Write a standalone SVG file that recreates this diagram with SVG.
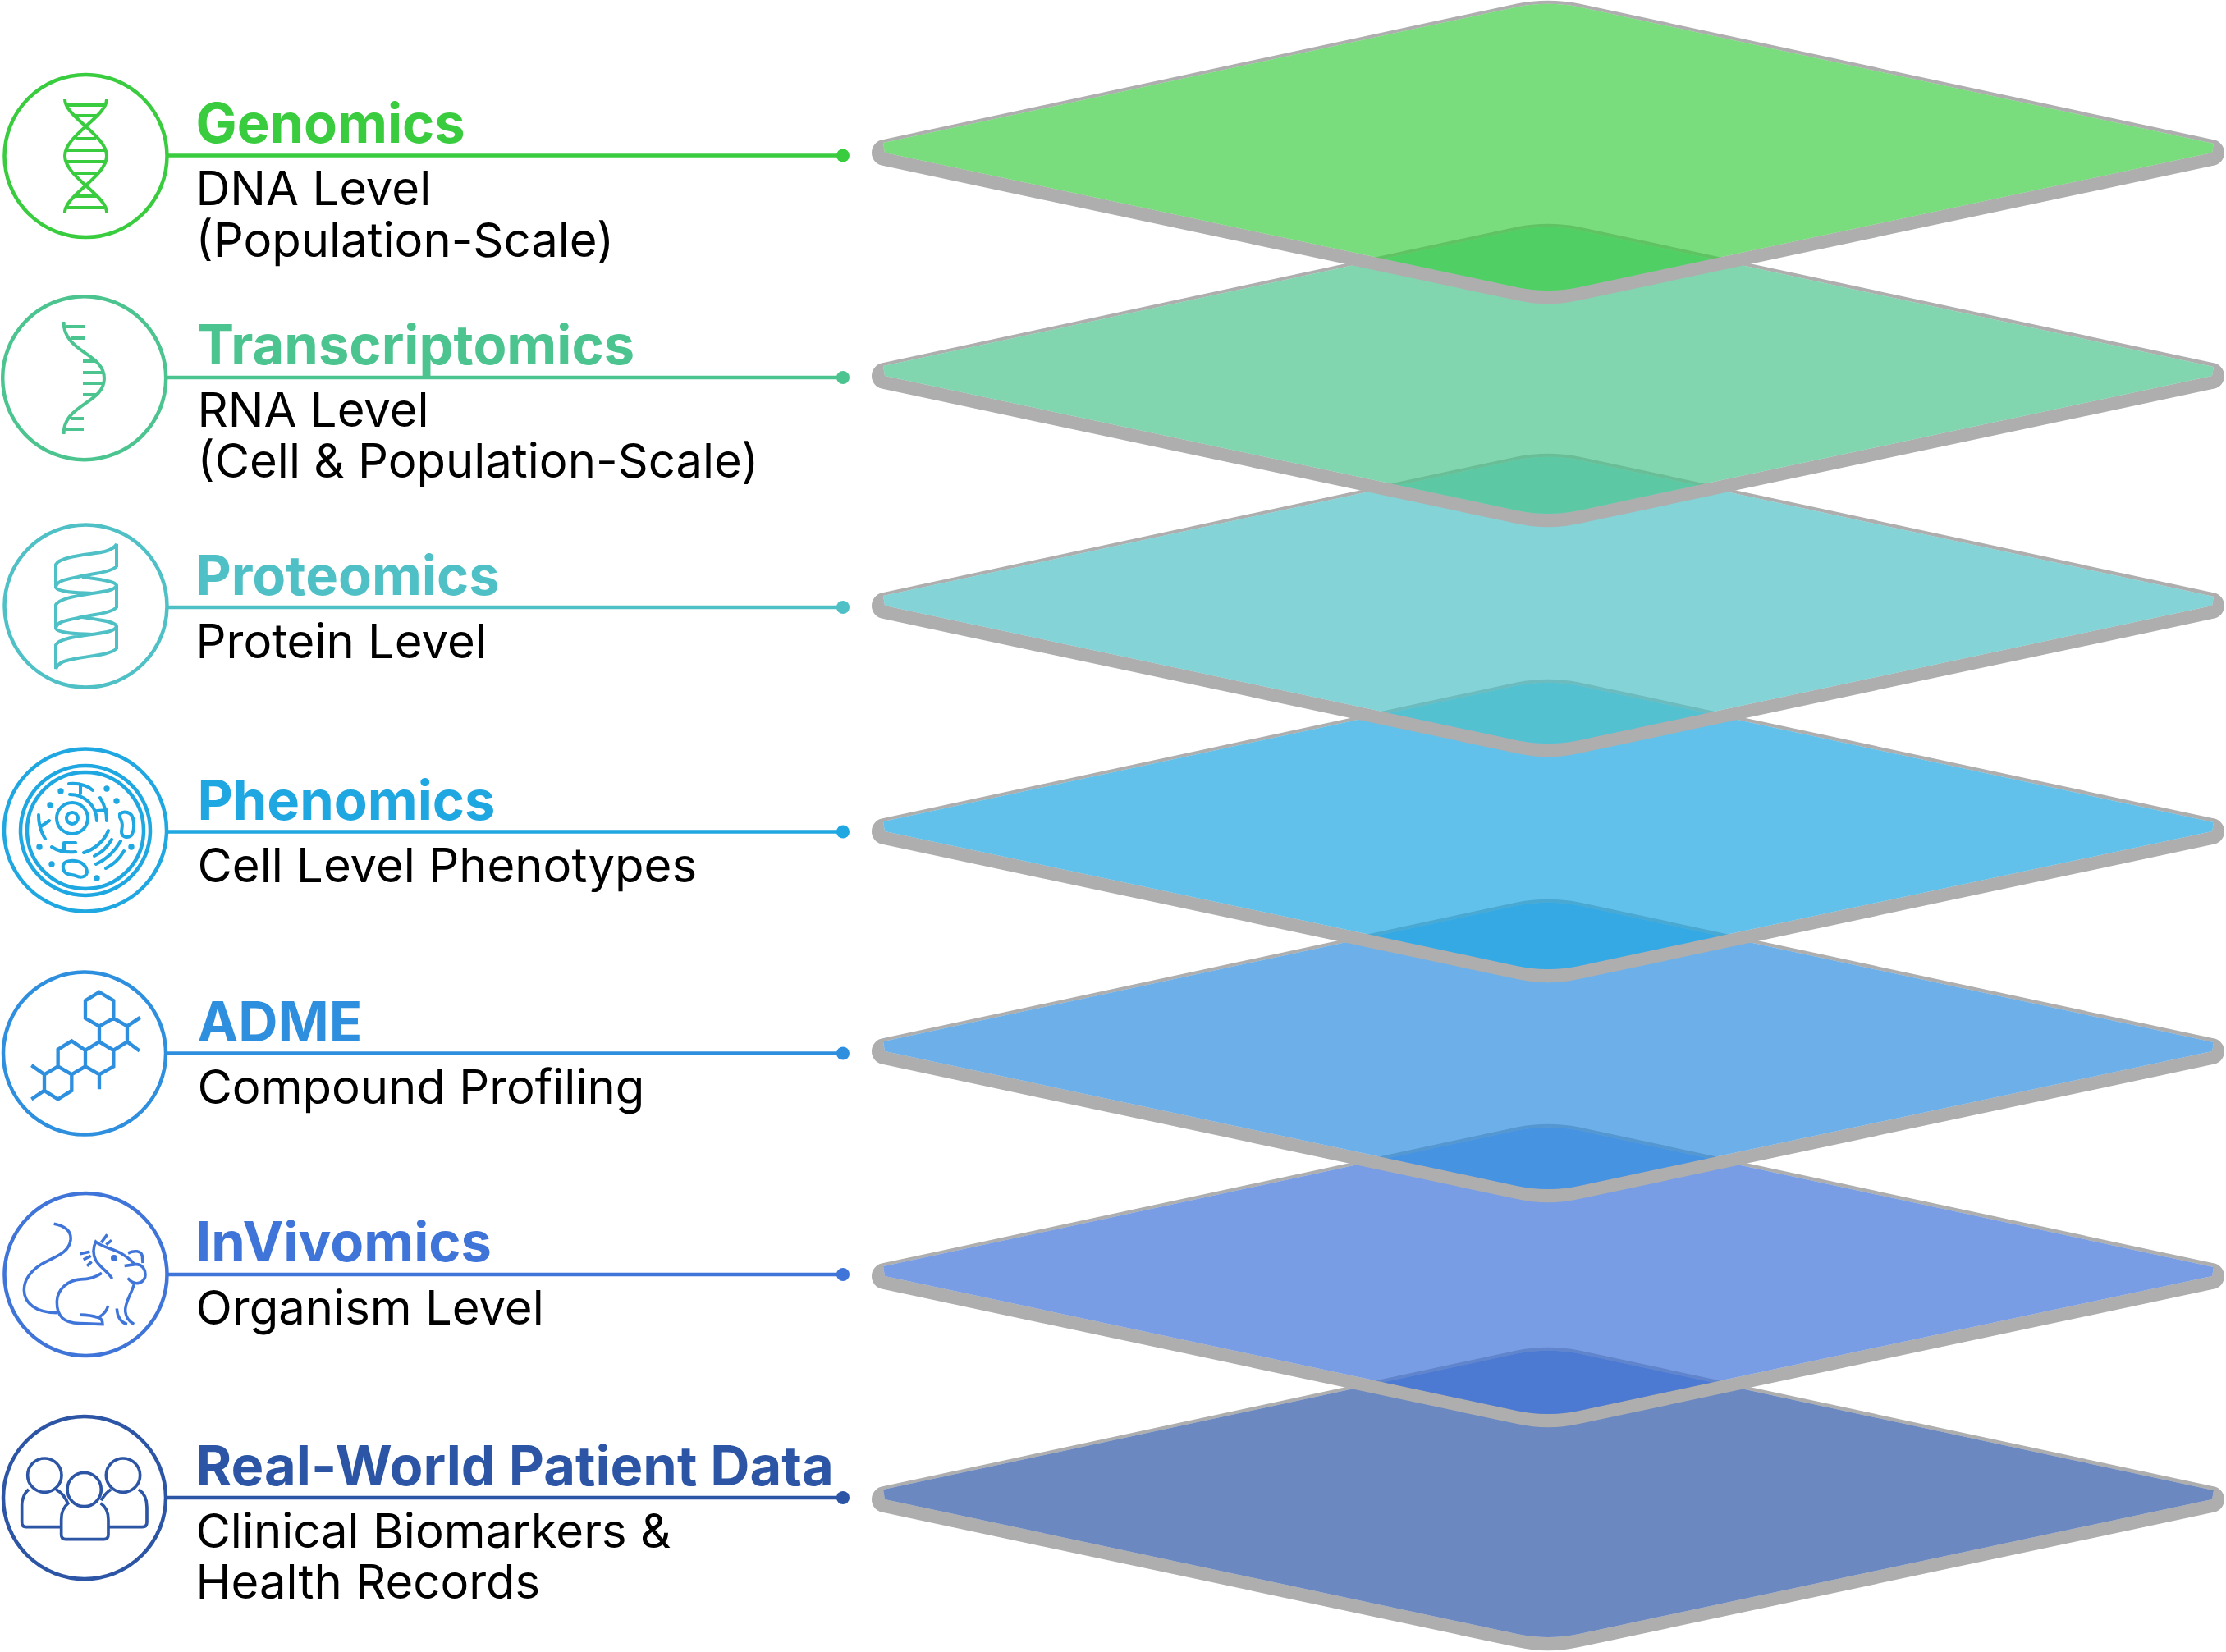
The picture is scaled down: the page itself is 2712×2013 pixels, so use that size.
<svg xmlns="http://www.w3.org/2000/svg" width="2712" height="2013" viewBox="0 0 2712 2013">
<style>
.ring{fill:#aeaeae;fill-rule:evenodd}
.t{font-family:Inter,"Liberation Sans",sans-serif;font-weight:700;font-size:66.8px}
.s{font-family:Inter,"Liberation Sans",sans-serif;font-weight:400;font-size:58px;fill:#000}
.ic{fill:none;stroke-width:4.5}
.th{fill:none;stroke-width:4}
.lk{stroke-width:4.5;fill:none}
.c1{stroke:#3acc3f}.f1{fill:#3acc3f}
.c2{stroke:#4cc48f}.f2{fill:#4cc48f}
.c3{stroke:#4fc1c6}.f3{fill:#4fc1c6}
.c4{stroke:#1ea7e1}.f4{fill:#1ea7e1}
.c5{stroke:#2f8fdf}.f5{fill:#2f8fdf}
.c6{stroke:#3f74d9}.f6{fill:#3f74d9}
.c7{stroke:#2c55a5}.f7{fill:#2c55a5}
</style>
<defs>
<path id="ringp" d="M1074,170.6 L1848,4.5 Q1886,-3 1924,4.5 L2698,170.6 A16 16 0 0 1 2698,201.6 L1924,366 Q1886,374.5 1848,366 L1074,201.6 A16 16 0 0 1 1074,170.6 Z M1076,174 L1078,186 L1848,350 Q1886,358 1924,350 L2695,186 L2697,175 L1924,8.5 Q1886,1 1848,8.5 Z"/>
<path id="fillp" d="M1076,174 L1078,186 L1848,350 Q1886,358 1924,350 L2695,186 L2697,175 L1924,8.5 Q1886,1 1848,8.5 Z"/>
</defs>
<g id="layers">
<g id="layer7" transform="translate(0,1641)"><use href="#ringp" class="ring"/><use href="#fillp" class="f7" opacity=".7"/></g>
<g id="layer6" transform="translate(0,1369)"><use href="#ringp" class="ring"/><use href="#fillp" class="f6" opacity=".7"/></g>
<g id="layer5" transform="translate(0,1095)"><use href="#ringp" class="ring"/><use href="#fillp" class="f5" opacity=".7"/></g>
<g id="layer4" transform="translate(0,827)"><use href="#ringp" class="ring"/><use href="#fillp" class="f4" opacity=".7"/></g>
<g id="layer3" transform="translate(0,552)"><use href="#ringp" class="ring"/><use href="#fillp" class="f3" opacity=".7"/></g>
<g id="layer2" transform="translate(0,272)"><use href="#ringp" class="ring"/><use href="#fillp" class="f2" opacity=".7"/></g>
<g id="layer1"><use href="#ringp" class="ring"/><use href="#fillp" class="f1" opacity=".68"/></g>
</g>
<g id="connectors">
<path class="lk c1" d="M205,189.5H1027"/><circle class="f1" cx="1027" cy="189.5" r="8"/>
<path class="lk c2" d="M203,460H1027"/><circle class="f2" cx="1027" cy="460" r="8"/>
<path class="lk c3" d="M205,740H1027"/><circle class="f3" cx="1027" cy="740" r="8"/>
<path class="lk c4" d="M204,1013.5H1027"/><circle class="f4" cx="1027" cy="1013.5" r="8"/>
<path class="lk c5" d="M203,1283.5H1027"/><circle class="f5" cx="1027" cy="1283.5" r="8"/>
<path class="lk c6" d="M205,1553H1027"/><circle class="f6" cx="1027" cy="1553" r="8"/>
<path class="lk c7" d="M204,1825H1027"/><circle class="f7" cx="1027" cy="1825" r="8"/>
</g>
<g id="genomics">
<circle class="ic c1" cx="104.5" cy="190" r="99"/>
<path class="th c1" d="M79,121C79,142 130,165 130,190C130,215 79,238 79,259M130,121C130,142 79,165 79,190C79,215 130,238 130,259M82,128H127M90,141H118M92,169H117M81,183H128M81,197H128M90,211H119M91,239H118M82,253H127"/>
<text class="t f1" x="238.5" y="174">Genomics</text>
<text class="s" x="238.5" y="250">DNA Level</text>
<text class="s" x="238.5" y="313">(Population-Scale)</text>
</g>
<g id="transcriptomics">
<circle class="ic c2" cx="102.7" cy="460.7" r="99.5"/>
<path class="th c2" d="M77.5,392C77.5,430 127,430 127,461C127,492 77.5,492 77.5,529M80,398H103M86,412H103M101,440H118M101,454H126M101,467H126M101,481H118M86,510H102M80,523H102"/>
<text class="t f2" x="240.5" y="444">Transcriptomics</text>
<text class="s" x="240.5" y="520">RNA Level</text>
<text class="s" x="240.5" y="582">(Cell &amp; Population-Scale)</text>
</g>
<g id="proteomics">
<circle class="ic c3" cx="104.5" cy="738.5" r="99"/>
<path class="th c3" d="M142,663V690C135,698 110,699 95,703C80,706 68,708 68,716V688C72,680 95,677 110,675C125,673 138,671 142,663ZM100,703C120,706 140,708 142,713C140,720 125,721 112,723C95,722 72,722 68,716M142,713V740C135,748 110,749 95,753C80,756 68,758 68,766V737C72,729 95,726 112,723M100,752C120,755 140,757 142,763C140,770 125,771 112,773C95,772 72,772 68,766M142,763V790C135,798 110,799 95,802C85,804 72,805 68,815V786C72,778 95,775 112,773"/>
<text class="t f3" x="238.5" y="725">Proteomics</text>
<text class="s" x="238.5" y="802">Protein Level</text>
</g>
<g id="phenomics">
<circle class="ic c4" cx="104" cy="1011.5" r="99"/>
<circle class="ic c4" cx="104" cy="1012" r="79"/>
<circle class="ic c4" cx="104" cy="1012" r="71"/>
<g class="th c4" stroke-linecap="round">
<circle cx="88" cy="997" r="7"/><circle cx="88" cy="997" r="19"/>
<path d="M84,955C95,954 106,957 113,963M85,968C102,968 117,980 118,1000M98,957V967M122,972C127,980 130,990 130,1000M118,988L130,987M47,993C47,1005 50,1014 55,1022M60,1000L50,1007M63,1032C72,1038 82,1039 92,1038M78,1027H92M78,1027V1036M102,1039C115,1035 127,1025 132,1012M115,1043C124,1039 131,1032 136,1023M117,1053C130,1047 140,1037 147,1025M129,1058C139,1053 146,1046 151,1037"/>
<path d="M146,992C151,987 160,990 162,997C164,1006 164,1012 160,1018C155,1022 148,1020 148,1013C149,1007 150,1003 146,996Z"/>
<path d="M77,1058C75,1050 84,1048 92,1049C100,1050 106,1056 106,1063C105,1069 98,1070 92,1067C85,1065 78,1066 77,1058Z"/>
</g>
<g class="f4"><circle cx="74" cy="964" r="3.7"/><circle cx="130" cy="961" r="3.7"/><circle cx="61" cy="981" r="3.7"/><circle cx="142" cy="976" r="3.7"/><circle cx="48" cy="1032" r="3.7"/><circle cx="160" cy="1032" r="3.7"/><circle cx="63" cy="1053" r="3.7"/><circle cx="118" cy="1070" r="3.7"/></g>
<text class="t f4" x="240.5" y="999">Phenomics</text>
<text class="s" x="240.5" y="1075">Cell Level Phenotypes</text>
</g>
<g id="adme">
<circle class="ic c5" cx="103" cy="1283.6" r="99"/>
<path class="c5" fill="none" stroke-width="13" transform="translate(0,1150) scale(.3333,.3461)" d="M363,170L415,200V262L363,290L312,262V200ZM415,262L465,290V345L415,375L363,345V290M363,345L312,375V432L363,460L415,432V375M312,375L262,342L212,372V432L262,460L312,432M212,432L162,460V517L212,547L262,517V460M465,290L512,260M465,345L510,377M363,460V512M162,460L115,428M162,517L115,547"/>
<text class="t f5" x="240.5" y="1269">ADME</text>
<text class="s" x="240.5" y="1345">Compound Profiling</text>
</g>
<g id="invivomics">
<circle class="ic c6" cx="104.5" cy="1553" r="99"/>
<g class="c6" fill="none" stroke-width="10.5" transform="translate(0,1148) scale(.3333,.3461)">
<path d="M197,992C240,1000 262,1020 258,1050C250,1100 190,1110 150,1135C110,1160 88,1190 88,1225C88,1270 130,1305 210,1305"/>
<path d="M372,1165C350,1180 325,1187 295,1187C250,1190 210,1220 208,1265C207,1320 235,1340 290,1342L375,1345C375,1335 370,1325 360,1322C340,1315 315,1312 292,1312M360,1322C380,1310 392,1295 395,1280"/>
<path d="M410,1185C395,1160 365,1145 350,1120C340,1100 340,1075 350,1055C375,1075 420,1080 450,1100C470,1112 490,1130 490,1135L455,1140M468,1095C490,1085 515,1085 520,1105L522,1130M490,1135C520,1130 535,1155 530,1180C520,1205 490,1210 467,1183"/>
<path d="M490,1205C480,1240 455,1270 458,1300C460,1320 470,1335 490,1345M427,1290C428,1315 440,1340 465,1345"/>
<path d="M370,1058L392,1030M388,1065L408,1050M293,1097L328,1090M305,1118L332,1105M318,1140L335,1125"/>
</g>
<circle class="f6" cx="139" cy="1533" r="4"/>
<text class="t f6" x="238.5" y="1537">InVivomics</text>
<text class="s" x="238.5" y="1614">Organism Level</text>
</g>
<g id="real-world">
<circle class="ic c7" cx="103" cy="1825" r="99"/>
<g class="c7" fill="none" stroke-width="11" transform="translate(0,1700) scale(.3333)">
<circle cx="163" cy="293" r="62"/><circle cx="450" cy="293" r="62"/><circle cx="308" cy="345" r="62"/>
<path d="M105,345C85,360 80,390 80,400V465Q80,482 95,482H222M205,345C225,355 240,375 250,400M507,345C530,360 537,385 537,410V465Q537,482 520,482H395M405,345C390,355 378,370 370,385M250,395C230,410 224,430 224,455V510Q224,527 240,527H380Q396,527 396,510V455C396,430 390,410 368,395"/>
</g>
<text class="t f7" x="238.5" y="1810">Real-World Patient Data</text>
<text class="s" x="238.5" y="1886">Clinical Biomarkers &amp;</text>
<text class="s" x="238.5" y="1948">Health Records</text>
</g>
</svg>
